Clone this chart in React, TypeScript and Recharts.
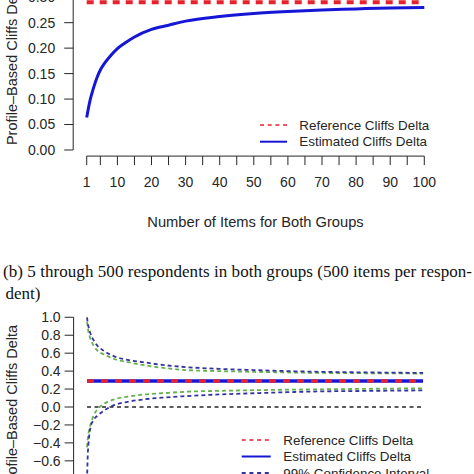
import { LineChart, Line, XAxis, YAxis, ReferenceLine } from 'recharts'

// Panel (a): estimated delta against number of items
const itemCounts = [1, 2, 3, 4, 5, 6, 8, 10, 12, 15, 20, 25, 30, 40, 50, 60, 70, 80, 90, 100]
const estimatedByItems = [
  0.064, 0.098, 0.122, 0.142, 0.157, 0.168, 0.185, 0.199, 0.209, 0.222,
  0.237, 0.245, 0.253, 0.262, 0.268, 0.272, 0.275, 0.277, 0.279, 0.28,
]
const referenceDelta = 0.29

const topXTicks = [1, 5, 10, 15, 20, 25, 30, 35, 40, 45, 50, 55, 60, 65, 70, 75, 80, 85, 90, 95, 100]
const topXLabels = [1, 10, 20, 30, 40, 50, 60, 70, 80, 90, 100]
const topYTicks = [0, 0.05, 0.1, 0.15, 0.2, 0.25, 0.3]

// Panel (b): delta and confidence bands against number of respondents
const respondents = [5, 6, 7, 10, 15, 20, 30, 45, 65, 90, 115, 150, 200, 250, 300, 350, 400, 450, 500]
const upper99 = [1.0, 0.94, 0.9, 0.82, 0.74, 0.685, 0.625, 0.565, 0.525, 0.497, 0.47, 0.445, 0.425, 0.412, 0.4, 0.392, 0.387, 0.383, 0.38]
const upper95 = [0.95, 0.89, 0.84, 0.76, 0.68, 0.63, 0.585, 0.535, 0.5, 0.465, 0.438, 0.412, 0.4, 0.392, 0.385, 0.38, 0.377, 0.375, 0.373]
const lower95 = [-0.45, -0.36, -0.3, -0.2, -0.09, -0.03, 0.035, 0.085, 0.115, 0.14, 0.153, 0.17, 0.18, 0.187, 0.193, 0.197, 0.201, 0.205, 0.208]
const lower99 = [-0.82, -0.55, -0.42, -0.23, -0.14, -0.1, -0.04, 0.02, 0.058, 0.086, 0.104, 0.121, 0.14, 0.153, 0.165, 0.174, 0.178, 0.182, 0.185]
const estimatedByRespondents = 0.29
const zeroLine = 0

const bottomYTicks = [-1, -0.8, -0.6, -0.4, -0.2, 0, 0.2, 0.4, 0.6, 0.8, 1]

const SANS = '"Liberation Sans", Arial, Helvetica, sans-serif'
const SERIF = '"Liberation Serif", "Times New Roman", serif'
const INK = '#262626'
const RED = '#e8222c'
const BLUE = '#1616d6'
const CI_BLUE = '#34349e'
const CI_GREEN = '#66b04e'

const topData = itemCounts.map((items, i) => ({
  items,
  estimated: estimatedByItems[i],
  reference: referenceDelta,
}))

const bottomData = respondents.map((n, i) => ({
  n,
  upper99: upper99[i],
  upper95: upper95[i],
  lower95: lower95[i],
  lower99: lower99[i],
  estimated: estimatedByRespondents,
  reference: referenceDelta,
  zero: zeroLine,
}))

const tickStyle = { fontSize: 14, fill: INK, fontFamily: SANS }

function TopPanel() {
  const xMin = -2.96
  const yMin = -0.012
  return (
    <div style={{ position: 'absolute', left: 0, top: -40 }}>
      <LineChart width={474} height={250} data={topData}
        margin={{ top: 31.1, right: 36.2, bottom: 23.9, left: 13.2 }}>
        <XAxis type="number" dataKey="items" domain={[xMin, 103.96]} allowDataOverflow
          ticks={topXTicks} interval={0} axisLine={false} height={30}
          tickSize={9} tickMargin={12} tickLine={{ stroke: INK }} tick={tickStyle}
          tickFormatter={(v: number) => (topXLabels.includes(v) ? String(v) : '')} />
        <YAxis type="number" domain={[yMin, 0.312]} allowDataOverflow width={60}
          ticks={topYTicks} interval={0} axisLine={false}
          tickSize={9} tickMargin={9} tickLine={{ stroke: INK }} tick={tickStyle}
          tickFormatter={(v: number) => v.toFixed(2)} />
        {/* R-style detached axis lines spanning only the tick range */}
        <ReferenceLine segment={[{ x: 1, y: yMin }, { x: 100, y: yMin }]} stroke={INK} ifOverflow="visible" />
        <ReferenceLine segment={[{ x: xMin, y: 0 }, { x: xMin, y: 0.3 }]} stroke={INK} ifOverflow="visible" />
        <Line dataKey="reference" stroke={RED} strokeWidth={4} strokeDasharray="7 6"
          dot={false} activeDot={false} isAnimationActive={false} />
        <Line dataKey="estimated" type="monotone" stroke={BLUE} strokeWidth={3}
          dot={false} activeDot={false} isAnimationActive={false} />
      </LineChart>
    </div>
  )
}

function BottomPanel() {
  const xMin = -14.8
  return (
    <div style={{ position: 'absolute', left: 0, top: 290 }}>
      <LineChart width={474} height={250} data={bottomData}
        margin={{ top: 20.1, right: 37.5, bottom: 36.1, left: 13.6 }}>
        <XAxis type="number" dataKey="n" domain={[xMin, 519.8]} allowDataOverflow hide />
        <YAxis type="number" domain={[-1.08, 1.08]} allowDataOverflow width={60}
          ticks={bottomYTicks} interval={0} axisLine={false}
          tickSize={9} tickMargin={4} tickLine={{ stroke: INK }} tick={tickStyle}
          tickFormatter={(v: number) => v.toFixed(1).replace('-', '\u2212')} />
        <ReferenceLine segment={[{ x: xMin, y: -1 }, { x: xMin, y: 1 }]} stroke={INK} ifOverflow="visible" />
        <Line dataKey="zero" stroke={INK} strokeWidth={1.6} strokeDasharray="4 3.5"
          dot={false} activeDot={false} isAnimationActive={false} />
        <Line dataKey="upper95" type="monotone" stroke={CI_GREEN} strokeWidth={1.8} strokeDasharray="4 3"
          dot={false} activeDot={false} isAnimationActive={false} />
        <Line dataKey="lower95" type="monotone" stroke={CI_GREEN} strokeWidth={1.8} strokeDasharray="4 3"
          dot={false} activeDot={false} isAnimationActive={false} />
        <Line dataKey="upper99" type="monotone" stroke={CI_BLUE} strokeWidth={1.8} strokeDasharray="4 3"
          dot={false} activeDot={false} isAnimationActive={false} />
        <Line dataKey="lower99" type="monotone" stroke={CI_BLUE} strokeWidth={1.8} strokeDasharray="4 3"
          dot={false} activeDot={false} isAnimationActive={false} />
        <Line dataKey="estimated" stroke={BLUE} strokeWidth={3.5}
          dot={false} activeDot={false} isAnimationActive={false} />
        <Line dataKey="reference" stroke={RED} strokeWidth={3.5} strokeDasharray="7 7"
          dot={false} activeDot={false} isAnimationActive={false} />
      </LineChart>
    </div>
  )
}

function Overlay() {
  const legendText = { fontSize: 13.4, fill: INK, fontFamily: SANS, dominantBaseline: 'central' as const }
  return (
    <svg width={474} height={474} style={{ position: 'absolute', left: 0, top: 0, pointerEvents: 'none' }}>
      {/* panel (a) titles */}
      <text x={16.5} y={63} transform="rotate(-90 16.5 63)" textAnchor="middle"
        style={{ fontSize: 14.5, fill: INK, fontFamily: SANS }}>Profile–Based Cliffs Delta</text>
      <text x={255.5} y={226.5} textAnchor="middle"
        style={{ fontSize: 14.7, fill: INK, fontFamily: SANS }}>Number of Items for Both Groups</text>

      {/* panel (a) legend */}
      <line x1={260} x2={287} y1={125} y2={125} stroke={RED} strokeWidth={1.4} strokeDasharray="4 3.7" />
      <text x={299.3} y={125} style={legendText}>Reference Cliffs Delta</text>
      <line x1={260} x2={287} y1={141.7} y2={141.7} stroke={BLUE} strokeWidth={2} />
      <text x={299.3} y={141.7} style={legendText}>Estimated Cliffs Delta</text>

      {/* panel (b) caption */}
      <text x={3} y={277} textLength={469} lengthAdjust="spacing"
        style={{ fontSize: 17, fill: '#111', fontFamily: SERIF }}>
        (b) 5 through 500 respondents in both groups (500 items per respon-
      </text>
      <text x={5.5} y={299} style={{ fontSize: 17, fill: '#111', fontFamily: SERIF }}>dent)</text>

      {/* panel (b) y title */}
      <text x={16.5} y={407} transform="rotate(-90 16.5 407)" textAnchor="middle"
        style={{ fontSize: 14.5, fill: INK, fontFamily: SANS }}>Profile–Based Cliffs Delta</text>

      {/* panel (b) legend */}
      <line x1={241.7} x2={270.7} y1={440} y2={440} stroke={RED} strokeWidth={1.4} strokeDasharray="4 3.7" />
      <text x={283.3} y={440} style={legendText}>Reference Cliffs Delta</text>
      <line x1={241.7} x2={270.7} y1={456.5} y2={456.5} stroke={BLUE} strokeWidth={2} />
      <text x={283.3} y={456.5} style={legendText}>Estimated Cliffs Delta</text>
      <line x1={241.7} x2={270.7} y1={473} y2={473} stroke={CI_BLUE} strokeWidth={2} strokeDasharray="4 3.7" />
      <text x={283.3} y={473} style={legendText}>99% Confidence Interval</text>
    </svg>
  )
}

export default function App() {
  return (
    <div style={{ position: 'fixed', left: 0, top: 0, width: 474, height: 474, overflow: 'hidden', background: '#fff' }}>
      <TopPanel />
      <BottomPanel />
      <Overlay />
    </div>
  )
}
